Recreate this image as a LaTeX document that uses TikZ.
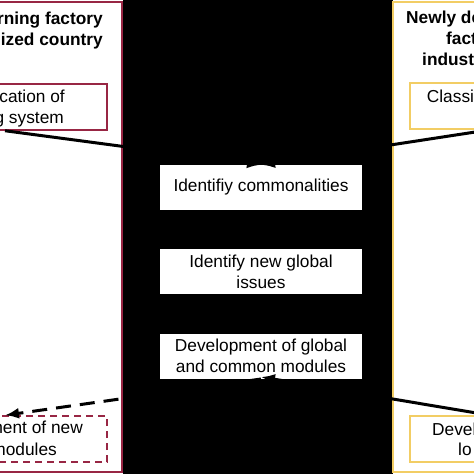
\documentclass[tikz,border=0pt]{standalone}
\usepackage{fontspec}
\setmainfont{Liberation Sans}
\usetikzlibrary{arrows.meta,positioning}
\definecolor{panelred}{RGB}{152,38,68}
\definecolor{panelgold}{RGB}{242,205,100}
\newcommand{\boxfont}{\fontsize{17.3}{21}\selectfont}
\tikzset{>={Latex[length=14pt,width=11pt]}}
\tikzset{stepbox/.style={fill=white, minimum width=202pt, minimum height=45pt, inner sep=0pt, align=center}}
\tikzset{redbox/.style={draw=panelred, line width=1.5pt, fill=white, minimum width=204pt, minimum height=46pt, inner sep=0pt}}
\tikzset{goldbox/.style={draw=panelgold, line width=1.5pt, fill=white, minimum width=160pt, minimum height=46pt, inner sep=0pt}}
\tikzset{lbl/.style={inner sep=0pt}}
\tikzset{flow/.style={line width=3pt, ->}}

\begin{document}
\begin{tikzpicture}[x=1pt,y=-1pt,font=\boxfont]
      \useasboundingbox (0,0) rectangle (474,474);
      \clip (0,0) rectangle (474,474);
      % black band and the two panels
      \fill[black] (123,0) rectangle (393,474);
      \draw[panelred, line width=2pt, fill=white] (-10,1.5) rectangle (122,472);
      \draw[panelgold, line width=2pt, fill=white] (393,1.5) rectangle (490,472);
      % titles
      \node[lbl, anchor=base east, font=\boxfont\bfseries] (ltitle1) at (103,24) {rning factory};
      \node[lbl, anchor=base east, font=\boxfont\bfseries] (ltitle2) at (103,45) {ized country};
      \node[lbl, anchor=base west, font=\boxfont\bfseries] (rtitle1) at (406,23) {Newly de};
      \node[lbl, anchor=base west, font=\boxfont\bfseries] (rtitle2) at (446,44.5) {fact};
      \node[lbl, anchor=base west, font=\boxfont\bfseries] (rtitle3) at (422,65.5) {indust};
      % boxes in the panels
      \node[redbox] (lclass) at (5,107) {};
      \node[redbox, dash pattern=on 7pt off 5pt] (ldev) at (5,439) {};
      \node[goldbox] (rclass) at (490,106) {};
      \node[goldbox] (rdev) at (490,439) {};
      \node[lbl, anchor=base east] (lclass1) at (65,102) {cation of};
      \node[lbl, anchor=base east] (lclass2) at (64,123) {g system};
      \node[lbl, anchor=base east] (ldev1) at (83,433) {ment of new};
      \node[lbl, anchor=base east] (ldev2) at (57,455) {modules};
      \node[lbl, anchor=base west] (rclass1) at (426.7,102) {Classi};
      \node[lbl, anchor=base west] (rdev1) at (432,435) {Devel};
      \node[lbl, anchor=base west] (rdev2) at (458,455) {lo};
      % steps in the middle
      \node[stepbox] (common) at (261,187.5) {Identifiy commonalities};
      \node[stepbox, below=39pt of common] (issues) {Identify new global\\issues};
      \node[stepbox, below=39pt of issues] (modules) {Development of global\\and common modules};
      % connectors
      \draw[flow] (lclass.south) -- (common.north);
      \draw[flow] (rclass.south) -- (common.north);
      \draw[flow] (rdev.north) -- ([yshift=2pt]modules.south);
      \draw[flow, dash pattern=on 15pt off 9pt] (modules.south) -- (ldev.north);
    \end{tikzpicture}
\end{document}
